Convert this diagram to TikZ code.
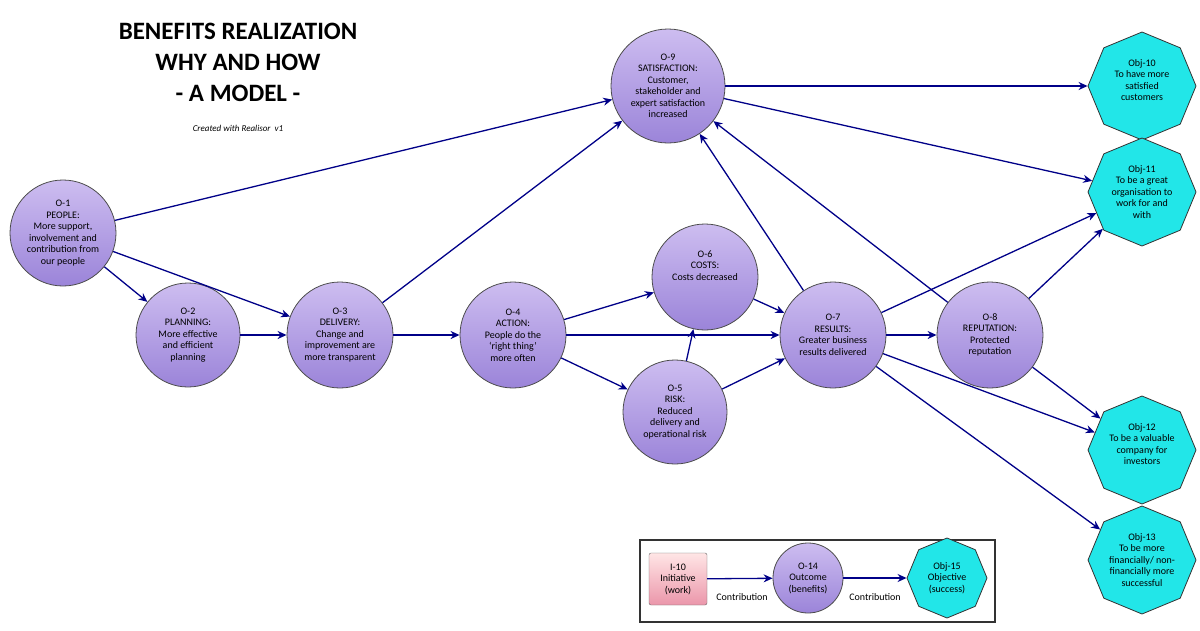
\documentclass[tikz,border=0pt]{standalone}
\usepackage{fontspec}
\setmainfont{Carlito}
\usetikzlibrary{shapes.geometric,arrows.meta}
\definecolor{lavT}{HTML}{CDBDF0}
\definecolor{lavB}{HTML}{9B84D9}
\definecolor{cy}{HTML}{22E6E8}
\definecolor{nv}{HTML}{000088}
\begin{document}
\begin{tikzpicture}[x=1pt,y=-1pt,
 oc/.style={circle,draw=black!70,thick,top color=lavT,bottom color=lavB,minimum size=#1,inner sep=0pt,align=center,font=\fontsize{10}{11.5}\selectfont},
 oc/.default=106pt,
 ob/.style={regular polygon,regular polygon sides=8,shape border rotate=22.5,draw=black!80,thick,fill=cy,minimum size=#1,inner sep=0pt,align=center,font=\fontsize{10}{11.5}\selectfont},
 ob/.default=108pt,
 ar/.style={draw=nv,line width=1.3pt,-{Stealth[length=9pt,width=8pt]}},
 lb/.style={font=\fontsize{10}{11}\selectfont}]
\useasboundingbox (0,0) rectangle (1200,630);
\node[font=\bfseries\fontsize{25}{31}\selectfont,align=center] at (238,62) {BENEFITS REALIZATION\\WHY AND HOW\\- A MODEL -};
\node[font=\itshape\fontsize{9}{10}\selectfont] at (238,128) {Created with Realisor\ \ v1};
\node[oc] (o1) at (63,233) {O-1\\PEOPLE:\\More support,\\involvement and\\contribution from\\our people};
\node[oc=104pt] (o2) at (188,335) {O-2\\PLANNING:\\More effective\\and efficient\\planning};
\node[oc] (o3) at (340,335) {O-3\\DELIVERY:\\Change and\\improvement are\\more transparent};
\node[oc] (o4) at (513,335) {O-4\\ACTION:\\People do the\\`right thing'\\more often};
\node[oc=104pt] (o5) at (675,412) {O-5\\RISK:\\Reduced\\delivery and\\operational risk};
\node[oc] (o6) at (705,277) {O-6\\COSTS:\\Costs decreased\\ \\ };
\node[oc] (o7) at (833,335) {O-7\\RESULTS:\\Greater business\\results delivered};
\node[oc] (o8) at (990,335) {O-8\\REPUTATION:\\Protected\\reputation};
\node[oc=114pt] (o9) at (668,86) {O-9\\SATISFACTION:\\Customer,\\stakeholder and\\expert satisfaction\\increased};
\node[ob] (b10) at (1142,86) {Obj-10\\To have more\\satisfied\\customers\\ };
\node[ob] (b11) at (1142,192) {Obj-11\\To be a great\\organisation to\\work for and\\with};
\node[ob] (b12) at (1142,450) {Obj-12\\To be a valuable\\company for\\investors\\ };
\node[ob] (b13) at (1142,560) {Obj-13\\To be more\\financially/ non-\\financially more\\successful};
\foreach \a/\b in {o1/o9,o1/o2,o1/o3,o2/o3,o3/o4,o3/o9,o4/o6,o4/o7,o4/o5,o5/o6,o5/o7,o6/o7,o7/o9,o7/o8,o7/b11,o7/b12,o7/b13,o8/o9,o8/b11,o8/b12,o9/b10,o9/b11}
  \draw[ar] (\a) -- (\b);
% legend
\draw[black!80,line width=1.5pt] (640,540) rectangle (995,622);
\node[draw=black!60,rounded corners=2pt,top color=pink!40,bottom color=purple!45!pink!70,minimum width=58pt,minimum height=52pt,align=center,inner sep=0pt,font=\fontsize{10}{11.5}\selectfont] (i10) at (678,579) {I-10\\Initiative\\(work)};
\node[oc=70pt] (o14) at (808,578) {O-14\\Outcome\\(benefits)};
\node[ob=80pt] (b15) at (947,578) {Obj-15\\Objective\\(success)};
\draw[ar] (i10) -- (o14);
\draw[ar] (o14) -- (b15);
\node[lb] at (742,597) {Contribution};
\node[lb] at (875,597) {Contribution};
\end{tikzpicture}
\end{document}
